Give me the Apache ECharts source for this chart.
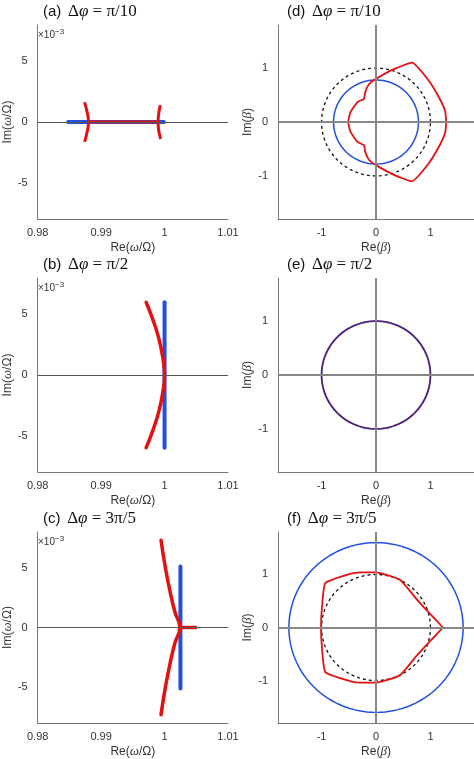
<!DOCTYPE html>
<html>
<head>
<meta charset="utf-8">
<script src="https://cdn.jsdelivr.net/npm/echarts@6/dist/echarts.min.js"></script>
<style>html,body{margin:0;padding:0;background:#fff}#main{width:474px;height:759px}</style>
</head>
<body>
<div id="main"></div>
<script>
var chart = echarts.init(document.getElementById('main'));

// panel (a) dphi = pi/10
var aBlue = [[0.9848, 0], [0.9999, 0]];
var aRedMid = [[0.9880, 0], [0.9993, 0]];
var aRedL = [[0.98739, 1.64], [0.98780, 0.8], [0.98801, 0], [0.98780, -0.8], [0.98739, -1.64]];
var aRedR = [[0.99933, 1.4], [0.99908, 0.7], [0.99898, 0], [0.99908, -0.7], [0.99939, -1.4]];
// panel (b) dphi = pi/2
var bBlue = [[1.0, 6], [1.0, -6]];
var bRed = [[0.9971, 6], [0.9982, 4.5], [0.9991, 3], [0.9997, 1.5], [1.0, 0],
            [0.9997, -1.5], [0.9991, -3], [0.9982, -4.5], [0.9971, -6]];
// panel (c) dphi = 3pi/5
var cBlue = [[1.0025, 5.1], [1.0025, -5.1]];
var cRed = [[0.99944, 7.3], [1.0001, 5.1], [1.00087, 3.0], [1.00163, 1.3], [1.0024, 0],
            [1.00163, -1.3], [1.00087, -3.0], [1.0001, -5.1], [0.99944, -7.3]];
var cRedTail = [[1.0024, 0], [1.0051, 0]];
// panel (d)
var dBlueR = 0.78;
var dRed = [[1.29, 0], [1.27, 0.2], [1.16, 0.45], [0.96, 0.78], [0.66, 1.10], [0.33, 0.98], [0, 0.80],
            [-0.13, 0.70], [-0.20, 0.55], [-0.22, 0.43], [-0.34, 0.37], [-0.47, 0.18], [-0.51, 0],
            [-0.47, -0.18], [-0.34, -0.37], [-0.22, -0.43], [-0.20, -0.55], [-0.13, -0.70], [0, -0.80],
            [0.33, -0.98], [0.66, -1.10], [0.96, -0.78], [1.16, -0.45], [1.27, -0.2], [1.29, 0]];
// panel (e)
var eR = 1.0;
// panel (f)
var fBlueR = 1.6;
var fRed = [[1.23, 0], [0.98, 0.27], [0.74, 0.54], [0.44, 0.90], [0, 1.04], [-0.29, 1.04], [-0.48, 1.01],
            [-0.93, 0.84], [-0.99, 0.41], [-1.01, 0], [-0.99, -0.41], [-0.93, -0.84], [-0.48, -1.01],
            [-0.29, -1.04], [0, -1.04], [0.44, -0.90], [0.74, -0.54], [0.98, -0.27], [1.23, 0]];
var unitR = 1.0;

var leftTicks = [0.98, 0.99, 1, 1.01];
var leftYTicks = [-5, 0, 5];
var betaTicks = [-1, 0, 1];
var titles = [
  ['(a)', 'π/10'], ['(b)', 'π/2'], ['(c)', '3π/5'],
  ['(d)', 'π/10'], ['(e)', 'π/2'], ['(f)', '3π/5']
];

function circle(r) {
  var pts = [];
  for (var i = 0; i <= 180; i++) {
    var t = i / 180 * 2 * Math.PI;
    pts.push([r * Math.cos(t), r * Math.sin(t)]);
  }
  return pts;
}

var tops = [25, 278, 532];
var grids = [], xAxes = [], yAxes = [], series = [], graphics = [];
var lbl = {color: '#333', fontSize: 11, fontFamily: 'Liberation Sans'};
var richName = {
  s: {fontFamily: 'Liberation Sans', fontSize: 12, color: '#333'},
  i: {fontFamily: 'Liberation Serif', fontStyle: 'italic', fontSize: 13, color: '#333'}
};

for (var k = 0; k < 6; k++) {
  var right = k >= 3;
  var row = k % 3;
  grids.push({left: right ? 278 : 32, top: tops[row], width: 196, height: 194});
  xAxes.push({
    type: 'value', gridIndex: k,
    min: right ? -1.8 : 0.98, max: right ? 1.8 : 1.01,
    splitLine: {show: false}, axisTick: {show: false},
    axisLine: {onZero: false, lineStyle: {color: '#777'}},
    axisLabel: Object.assign({customValues: right ? betaTicks : leftTicks, margin: 8,
      formatter: function (v) { return String(+v.toFixed(2)); }}, lbl),
    name: right ? '{s|Re(}{i|β}{s|)}' : '{s|Re(}{i|ω}{s|/Ω)}',
    nameLocation: 'middle', nameGap: 22, nameTextStyle: {rich: richName}
  });
  yAxes.push({
    type: 'value', gridIndex: k,
    min: right ? -1.8 : -8, max: right ? 1.8 : 8,
    splitLine: {show: false}, axisTick: {show: false},
    axisLine: {onZero: false, lineStyle: {color: '#777'}},
    axisLabel: Object.assign({customValues: right ? betaTicks : leftYTicks, margin: 10}, lbl),
    name: right ? '{s|Im(}{i|β}{s|)}' : '{s|Im(}{i|ω}{s|/Ω)}',
    nameLocation: 'middle', nameGap: right ? 22 : 18, nameTextStyle: {rich: richName}
  });
  graphics.push({
    type: 'text', left: right ? 287 : 43, top: tops[row] - 22,
    style: {
      text: '{s|' + titles[k][0] + '}  {m|Δ}{i|φ}{m| = ' + titles[k][1] + '}',
      rich: {
        s: {fontFamily: 'Liberation Sans', fontSize: 15, fill: '#111'},
        m: {fontFamily: 'Liberation Serif', fontSize: 17, fill: '#111'},
        i: {fontFamily: 'Liberation Serif', fontStyle: 'italic', fontSize: 17, fill: '#111'}
      }
    }
  });
  if (!right) {
    graphics.push({
      type: 'text', left: 38, top: tops[row] + 3,
      style: {text: '×10{sup|−3}', fontFamily: 'Liberation Sans', fontSize: 10, fill: '#333',
        rich: {sup: {fontSize: 8, verticalAlign: 'top', padding: [0, 0, 6, 0], fill: '#333'}}}
    });
  }
}

function line(k, data, color, width, extra) {
  var s = {type: 'line', xAxisIndex: k, yAxisIndex: k, data: data, showSymbol: false,
    silent: true, animation: false, lineStyle: {color: color, width: width}};
  return Object.assign(s, extra || {});
}
function zeroLines(k, right) {
  var ml = [{yAxis: 0}];
  if (right) ml.push({xAxis: 0});
  return line(k, [], '#000', 1, {markLine: {symbol: 'none', silent: true, animation: false,
    label: {show: false}, lineStyle: {color: right ? '#888' : '#555', width: right ? 2 : 1, type: 'solid'},
    data: ml}});
}

for (var z = 0; z < 6; z++) series.push(zeroLines(z, z >= 3));

var B = '#2350e0', R = '#e51010';
series.push(line(0, aBlue, B, 4, {lineStyle: {color: B, width: 4, cap: 'round'}}));
series.push(line(0, aRedMid, R, 3));
series.push(line(0, aRedL, R, 3, {smooth: true}));
series.push(line(0, aRedR, R, 3, {smooth: true}));
series.push(line(1, bBlue, B, 4, {lineStyle: {color: B, width: 4, cap: 'round'}}));
series.push(line(1, bRed, R, 3.5, {smooth: true, lineStyle: {color: R, width: 3.5, cap: 'round'}}));
series.push(line(2, cBlue, B, 4, {lineStyle: {color: B, width: 4, cap: 'round'}}));
series.push(line(2, cRed, R, 3.5, {smooth: true, lineStyle: {color: R, width: 3.5, cap: 'round'}}));
series.push(line(2, cRedTail, R, 3.5));

series.push(line(3, circle(unitR), '#111', 1.3, {lineStyle: {color: '#111', width: 1.3, type: [3, 3]}}));
series.push(line(3, circle(dBlueR), B, 1.5));
series.push(line(3, dRed, R, 1.8, {smooth: 0.15}));
series.push(line(4, circle(eR), '#2a2a9a', 1.8));
series.push(line(4, circle(eR), 'rgba(150,20,60,0.5)', 1.2));
series.push(line(5, circle(fBlueR), B, 1.5));
series.push(line(5, circle(unitR), '#111', 1.3, {lineStyle: {color: '#111', width: 1.3, type: [3, 3]}}));
series.push(line(5, fRed, R, 1.8, {smooth: 0.15}));

chart.setOption({
  animation: false,
  grid: grids, xAxis: xAxes, yAxis: yAxes, series: series, graphic: graphics
});
</script>
</body>
</html>
